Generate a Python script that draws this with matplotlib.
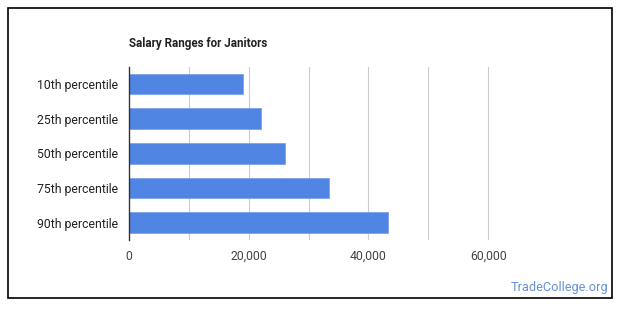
import matplotlib.pyplot as plt
from matplotlib.patches import Rectangle

plt.rcParams['font.family'] = ['Roboto', 'DejaVu Sans']

# data
labels = ["10th percentile", "25th percentile", "50th percentile", "75th percentile", "90th percentile"]
salaries = [19050, 22050, 26060, 33400, 43250]
xticks = [0, 20000, 40000, 60000]

fig = plt.figure(figsize=(6.2, 3.1), dpi=100)
ax = fig.add_axes([0.208, 0.226, 0.676, 0.559])

ypos = list(range(len(labels)))
ax.barh(ypos, salaries, height=0.6, color='#5085e3', edgecolor='#7aa2ea', linewidth=0.6, zorder=3)
ax.set_ylim(len(labels) - 0.5, -0.5)
ax.set_xlim(0, 70000)

# light gridlines every 10k, no line at the right edge
for g in range(10000, 70000, 10000):
    ax.axvline(g, color='#cccccc', linewidth=0.8, zorder=1)

ax.set_yticks(ypos)
ax.set_yticklabels(labels, fontsize=8.8, color='#222222')
ax.set_xticks(xticks)
ax.set_xticklabels(['{:,}'.format(t) for t in xticks], fontsize=8.8, color='#444444')
ax.tick_params(length=0, pad=7)
ax.tick_params(axis='y', pad=8)

for s in ['top', 'right', 'bottom']:
    ax.spines[s].set_visible(False)
ax.spines['left'].set_color('#333333')
ax.spines['left'].set_linewidth(1.0)
ax.spines['left'].set_zorder(4)

fig.text(129 / 620, 1 - 43 / 310, "Salary Ranges for Janitors", fontsize=8.4,
         fontweight='bold', color='#222222', va='center', ha='left')
fig.text(608 / 620, 1 - 288 / 310, "TradeCollege.org", fontsize=9.2,
         color='#6592d8', va='center', ha='right')

# frame round the whole picture
fig.patches.append(Rectangle((8 / 620, 1 - 298 / 310), 604 / 620, 290 / 310,
                             transform=fig.transFigure, fill=False,
                             edgecolor='black', linewidth=1.2))

fig.savefig('out.png', dpi=100)
